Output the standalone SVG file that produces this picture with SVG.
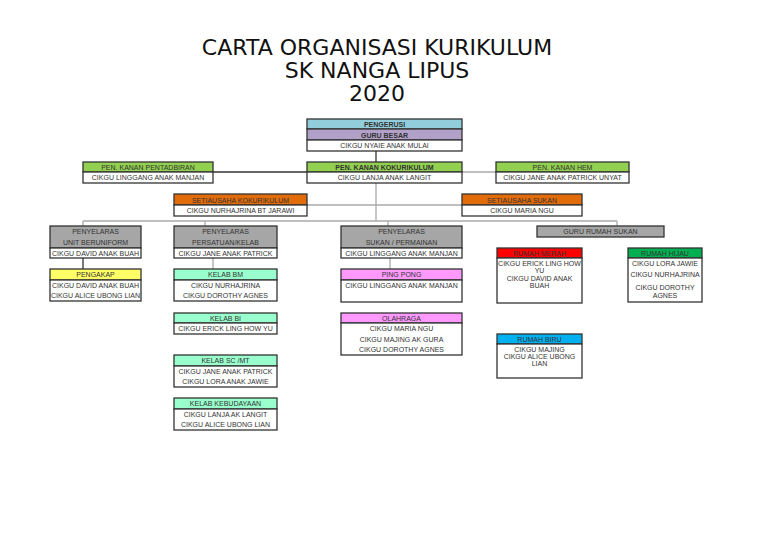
<svg xmlns="http://www.w3.org/2000/svg" width="768" height="543" viewBox="0 0 768 543">
<style>
.b{stroke:#333;stroke-width:1.3}
.t{font-family:"Liberation Sans",Arial,sans-serif;font-size:7px;fill:#333;text-anchor:middle}
.h{font-weight:bold}
.ln{stroke:#aaa;stroke-width:1.3;fill:none}
.dk{stroke:#333;stroke-width:1.3;fill:none}
</style>
<rect width="768" height="543" fill="#fff"/>
<g font-family="DejaVu Sans,sans-serif" font-size="22" fill="#111" text-anchor="middle">
<text x="377" y="55">CARTA ORGANISASI KURIKULUM</text>
<text x="377" y="78">SK NANGA LIPUS</text>
<text x="377" y="101">2020</text>
</g>
<g id="connectors">
<path class="dk" d="M376 151V162"/>
<path class="dk" d="M213 172H307"/>
<path class="ln" d="M462 172H496"/>
<path class="ln" d="M376 183V221M83 221H617M307 205H462"/>
<path class="ln" d="M83 221V226M205 221V226M388 221V226M617 221V226"/>
<path class="dk" d="M83 258V269"/>
<path class="ln" d="M213 258V269M390 258V269"/>
</g>
<g id="pengerusi"><rect x="307" y="119" width="155" height="10" fill="#92cddc" class="b"/><rect x="307" y="129" width="155" height="11" fill="#b1a0c7" class="b"/><rect x="307" y="140" width="155" height="11" fill="#fff" class="b"/>
<text class="t h" x="384.5" y="127">PENGERUSI</text><text class="t h" x="384.5" y="137.5">GURU BESAR</text><text class="t" x="384.5" y="148">CIKGU NYAIE ANAK MULAI</text></g>
<g id="pentadbiran"><rect x="83" y="162" width="130" height="10" fill="#92d050" class="b"/><rect x="83" y="172" width="130" height="11" fill="#fff" class="b"/>
<text class="t" x="148" y="170">PEN. KANAN PENTADBIRAN</text><text class="t" x="148" y="180">CIKGU LINGGANG ANAK MANJAN</text></g>
<g id="kokurikulum"><rect x="307" y="162" width="155" height="10" fill="#92d050" class="b"/><rect x="307" y="172" width="155" height="11" fill="#fff" class="b"/>
<text class="t h" x="384.5" y="170">PEN. KANAN KOKURIKULUM</text><text class="t" x="384.5" y="180">CIKGU LANJA ANAK LANGIT</text></g>
<g id="hem"><rect x="496" y="162" width="133" height="10" fill="#92d050" class="b"/><rect x="496" y="172" width="133" height="11" fill="#fff" class="b"/>
<text class="t" x="562.5" y="170">PEN. KANAN HEM</text><text class="t" x="562.5" y="180">CIKGU JANE ANAK PATRICK UNYAT</text></g>
<g id="setiakoku"><rect x="174" y="194" width="133" height="11" fill="#e26b0a" class="b"/><rect x="174" y="205" width="133" height="11" fill="#fff" class="b"/>
<text class="t" x="240.5" y="202.5">SETIAUSAHA KOKURIKULUM</text><text class="t" x="240.5" y="213">CIKGU NURHAJRINA BT JARAWI</text></g>
<g id="setiasukan"><rect x="462" y="194" width="120" height="11" fill="#e26b0a" class="b"/><rect x="462" y="205" width="120" height="11" fill="#fff" class="b"/>
<text class="t" x="522" y="202.5">SETIAUSAHA SUKAN</text><text class="t" x="522" y="213">CIKGU MARIA NGU</text></g>
<g id="unit"><rect x="50" y="226" width="91" height="22" fill="#a6a6a6" class="b"/><rect x="50" y="248" width="91" height="10" fill="#fff" class="b"/>
<text class="t" x="95.5" y="234">PENYELARAS</text><text class="t" x="95.5" y="245">UNIT BERUNIFORM</text><text class="t" x="95.5" y="255.5">CIKGU DAVID ANAK BUAH</text></g>
<g id="persatuan"><rect x="174" y="226" width="103" height="22" fill="#a6a6a6" class="b"/><rect x="174" y="248" width="103" height="10" fill="#fff" class="b"/>
<text class="t" x="225.5" y="234">PENYELARAS</text><text class="t" x="225.5" y="245">PERSATUAN/KELAB</text><text class="t" x="225.5" y="255.5">CIKGU JANE ANAK PATRICK</text></g>
<g id="sukan"><rect x="341" y="226" width="121" height="22" fill="#a6a6a6" class="b"/><rect x="341" y="248" width="121" height="10" fill="#fff" class="b"/>
<text class="t" x="401.5" y="234">PENYELARAS</text><text class="t" x="401.5" y="245">SUKAN / PERMAINAN</text><text class="t" x="401.5" y="255.5">CIKGU LINGGANG ANAK MANJAN</text></g>
<g id="gurursukan"><rect x="537" y="226" width="127" height="11" fill="#a6a6a6" class="b"/><text class="t" x="600.5" y="234">GURU RUMAH SUKAN</text></g>
<g id="pengakap"><rect x="50" y="269" width="91" height="11" fill="#ffff66" class="b"/><rect x="50" y="280" width="91" height="21" fill="#fff" class="b"/>
<text class="t" x="95.5" y="277">PENGAKAP</text><text class="t" x="95.5" y="287.5">CIKGU DAVID ANAK BUAH</text><text class="t" x="95.5" y="298">CIKGU ALICE UBONG LIAN</text></g>
<g id="kelabbm"><rect x="174" y="269" width="103" height="11" fill="#99ffcc" class="b"/><rect x="174" y="280" width="103" height="21" fill="#fff" class="b"/>
<text class="t" x="225.5" y="277">KELAB BM</text><text class="t" x="225.5" y="287.5">CIKGU NURHAJRINA</text><text class="t" x="225.5" y="298">CIKGU DOROTHY AGNES</text></g>
<g id="pingpong"><rect x="341" y="269" width="121" height="11" fill="#ff99ff" class="b"/><rect x="341" y="280" width="121" height="22" fill="#fff" class="b"/>
<text class="t" x="401.5" y="277">PING PONG</text><text class="t" x="401.5" y="287.5">CIKGU LINGGANG ANAK MANJAN</text></g>
<g id="kelabbi"><rect x="174" y="313" width="103" height="10" fill="#99ffcc" class="b"/><rect x="174" y="323" width="103" height="11" fill="#fff" class="b"/>
<text class="t" x="225.5" y="320.5">KELAB BI</text><text class="t" x="225.5" y="331">CIKGU ERICK LING HOW YU</text></g>
<g id="olahraga"><rect x="341" y="313" width="121" height="10" fill="#ff99ff" class="b"/><rect x="341" y="323" width="121" height="32" fill="#fff" class="b"/>
<text class="t" x="401.5" y="320.5">OLAHRAGA</text><text class="t" x="401.5" y="331">CIKGU MARIA NGU</text><text class="t" x="401.5" y="342">CIKGU MAJING AK GURA</text><text class="t" x="401.5" y="352">CIKGU DOROTHY AGNES</text></g>
<g id="kelabsc"><rect x="174" y="355" width="103" height="11" fill="#99ffcc" class="b"/><rect x="174" y="366" width="103" height="21" fill="#fff" class="b"/>
<text class="t" x="225.5" y="363">KELAB SC /MT</text><text class="t" x="225.5" y="373.5">CIKGU JANE ANAK PATRICK</text><text class="t" x="225.5" y="384">CIKGU LORA ANAK JAWIE</text></g>
<g id="kebudayaan"><rect x="174" y="398" width="103" height="11" fill="#99ffcc" class="b"/><rect x="174" y="409" width="103" height="21" fill="#fff" class="b"/>
<text class="t" x="225.5" y="406">KELAB KEBUDAYAAN</text><text class="t" x="225.5" y="416.5">CIKGU LANJA AK LANGIT</text><text class="t" x="225.5" y="427">CIKGU ALICE UBONG LIAN</text></g>
<g id="merah"><rect x="497" y="248" width="85" height="10" fill="#ff0000" class="b"/><rect x="497" y="258" width="85" height="45" fill="#fff" class="b"/>
<text class="t" x="539.5" y="255.5">RUMAH MERAH</text><text class="t" x="539.5" y="266">CIKGU ERICK LING HOW</text><text class="t" x="539.5" y="273">YU</text><text class="t" x="539.5" y="281">CIKGU DAVID ANAK</text><text class="t" x="539.5" y="288">BUAH</text></g>
<g id="hijau"><rect x="628" y="248" width="74" height="10" fill="#00b050" class="b"/><rect x="628" y="258" width="74" height="44" fill="#fff" class="b"/>
<text class="t" x="665" y="255.5">RUMAH HIJAU</text><text class="t" x="665" y="266">CIKGU LORA  JAWIE</text><text class="t" x="665" y="277">CIKGU NURHAJRINA</text><text class="t" x="665" y="290">CIKGU DOROTHY</text><text class="t" x="665" y="298">AGNES</text></g>
<g id="biru"><rect x="497" y="334" width="85" height="10" fill="#00b0f0" class="b"/><rect x="497" y="344" width="85" height="34" fill="#fff" class="b"/>
<text class="t" x="539.5" y="341.5">RUMAH BIRU</text><text class="t" x="539.5" y="352">CIKGU MAJING</text><text class="t" x="539.5" y="359">CIKGU ALICE UBONG</text><text class="t" x="539.5" y="366">LIAN</text></g>
</svg>
